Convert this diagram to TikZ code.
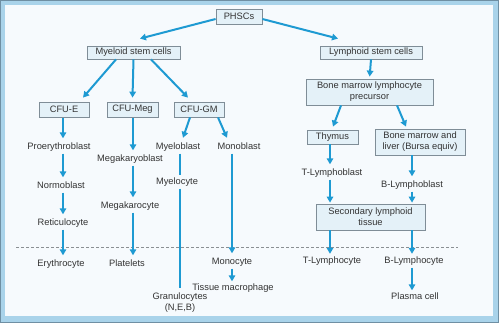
\documentclass[tikz,border=0pt]{standalone}
\usepackage{fontspec}
\setmainfont{Liberation Sans}
\usetikzlibrary{arrows.meta}
\definecolor{arr}{HTML}{1E9AD2}
\definecolor{boxfill}{HTML}{E4F1F8}
\definecolor{boxline}{HTML}{7F8D97}
\definecolor{txt}{HTML}{333333}
\definecolor{bg}{HTML}{F6FAFD}
\definecolor{band}{HTML}{A9D3EA}
\definecolor{edge}{HTML}{6F8FA3}
\definecolor{dashcol}{HTML}{8A8F93}
\newcommand\dgfont{\fontsize{9.3bp}{11bp}\selectfont}
\begin{document}
\begin{tikzpicture}[x=1bp,y=-1bp,
  box/.style={draw=boxline, fill=boxfill, line width=0.8bp, inner sep=0pt, text=txt, font=\dgfont, align=center},
  lbl/.style={text=txt, font=\dgfont, inner sep=1bp, text height=7bp, text depth=2bp, align=center},
  lbltwo/.style={text=txt, font=\dgfont, inner sep=0pt, align=center},
  arw/.style={draw=arr, line width=2bp, -{Triangle[length=6bp,width=6.5bp]}, shorten >=3bp, shorten <=1bp},
  ln/.style={draw=arr, line width=2bp, shorten >=1bp, shorten <=1bp}]
\useasboundingbox (0,0) rectangle (499,323);
% frame
\fill[edge] (0,0) rectangle (499,323);
\fill[band] (1,1) rectangle (498,322);
\fill[bg] (5,5) rectangle (493,316);
% dashed separator
\coordinate (dl) at (16,247);
\coordinate (dr) at (458,247);
\draw[dashcol, line width=0.8bp, dash pattern=on 3bp off 2bp] (dl) -- (dr);
% columns
\coordinate (colE) at (63,0);
\coordinate (colMeg) at (133,0);
\coordinate (colMy) at (180,0);
\coordinate (colMo) at (232,0);
\coordinate (colT) at (330,0);
\coordinate (colB) at (412,0);
% boxes
\node[box, minimum width=46bp, minimum height=15bp] (ph) at (239,16.5) {PHSCs};
\node[box, minimum width=93bp, minimum height=13bp] (my) at (133.5,52.5) {Myeloid stem cells};
\node[box, minimum width=102bp, minimum height=13bp] (ly) at (371,52.5) {Lymphoid stem cells};
\node[box, minimum width=127bp, minimum height=26bp] (bm) at (369.5,92) {Bone marrow lymphocyte\\precursor};
\node[box, minimum width=51bp, minimum height=14bp] (thy) at (332.5,137) {Thymus};
\node[box, minimum width=90bp, minimum height=26bp] (bml) at (420,142) {Bone marrow and\\liver (Bursa equiv)};
\node[box, minimum width=50bp, minimum height=15bp] (cfue) at (64,109.5) {CFU-E};
\node[box, minimum width=51bp, minimum height=15bp] (cfumeg) at (132.5,109.5) {CFU-Meg};
\node[box, minimum width=50bp, minimum height=15bp] (cfugm) at (199,109.5) {CFU-GM};
\node[box, minimum width=109bp, minimum height=26bp] (sec) at (370.5,217) {Secondary lymphoid\\tissue};
% labels
\node[lbl] (pro) at (59,147) {Proerythroblast};
\node[lbl] (norm) at (61,186) {Normoblast};
\node[lbl] (ret) at (63,223) {Reticulocyte};
\node[lbl] (ery) at (61,264) {Erythrocyte};
\node[lbl] (megb) at (130,159) {Megakaryoblast};
\node[lbl] (megc) at (130,206) {Megakarocyte};
\node[lbl] (plat) at (127,264) {Platelets};
\node[lbl] (myb) at (178,147) {Myeloblast};
\node[lbl] (myc) at (177,182) {Myelocyte};
\node[lbltwo] (gran) at (180,303) {Granulocytes\\(N,E,B)};
\node[lbl] (mob) at (239,147) {Monoblast};
\node[lbl] (moc) at (232,262) {Monocyte};
\node[lbl] (tis) at (233,288) {Tissue macrophage};
\node[lbl] (tlb) at (332,173) {T-Lymphoblast};
\node[lbl] (blb) at (412,185) {B-Lymphoblast};
\node[lbl] (tlc) at (332,261) {T-Lymphocyte};
\node[lbl] (blc) at (414,261) {B-Lymphocyte};
\node[lbl] (pla) at (415,297) {Plasma cell};
% connectors: top
\draw[arw, shorten >=0pt, shorten <=0pt] ([yshift=-2.5bp]ph.west) -- ([xshift=6.5bp,yshift=7bp]my.north);
\draw[arw, shorten >=0pt, shorten <=0pt] ([yshift=-2.5bp]ph.east) -- ([xshift=-33bp,yshift=7bp]ly.north);
% myeloid
\draw[arw, shorten >=0pt, shorten <=0pt] ([xshift=-17.5bp]my.south) -- ([xshift=19bp,yshift=4bp]cfue.north);
\draw[arw, shorten >=0pt, shorten <=0pt] (my.south) -- ([yshift=4bp]cfumeg.north);
\draw[arw, shorten >=0pt, shorten <=0pt] ([xshift=17.5bp]my.south) -- ([xshift=-11bp,yshift=4bp]cfugm.north);
% erythroid column
\draw[arw] (cfue.south -| colE) -- (pro.north -| colE);
\draw[arw] (pro.south -| colE) -- (norm.north -| colE);
\draw[arw] (norm.south -| colE) -- (ret.north -| colE);
\draw[arw] (ret.south -| colE) -- (ery.north -| colE);
% megakaryocyte column
\draw[arw] (cfumeg.south -| colMeg) -- (megb.north -| colMeg);
\draw[arw] (megb.south -| colMeg) -- (megc.north -| colMeg);
\draw[arw] (megc.south -| colMeg) -- (plat.north -| colMeg);
% granulocyte / monocyte
\draw[arw, shorten >=0pt, shorten <=0pt] ([xshift=-9bp]cfugm.south) -- ([xshift=5bp,yshift=3.5bp]myb.north);
\draw[arw, shorten >=0pt, shorten <=0pt] ([xshift=19bp]cfugm.south) -- ([xshift=-12bp,yshift=3.5bp]mob.north);
\draw[ln] (myb.south -| colMy) -- (myc.north -| colMy);
\draw[ln, shorten >=5bp] (myc.south -| colMy) -- (gran.north -| colMy);
\draw[arw] (mob.south -| colMo) -- (moc.north -| colMo);
\draw[arw, shorten >=1bp] (moc.south -| colMo) -- (tis.north -| colMo);
% lymphoid
\draw[arw, shorten >=2bp, shorten <=0pt] (ly.south) -- (bm.north);
\draw[arw, shorten >=0pt, shorten <=0pt] ([xshift=-28.5bp]bm.south) -- ([xshift=0.5bp,yshift=3bp]thy.north);
\draw[arw, shorten >=0pt, shorten <=0pt] ([xshift=27.5bp]bm.south) -- ([xshift=-14bp,yshift=2bp]bml.north);
\draw[arw, shorten <=0pt] (thy.south -| colT) -- (tlb.north -| colT);
\draw[arw, shorten <=0pt] (bml.south -| colB) -- (blb.north -| colB);
\draw[arw, shorten >=1bp] (tlb.south -| colT) -- (sec.north -| colT);
\draw[arw, shorten >=1bp] (blb.south -| colB) -- (sec.north -| colB);
\draw[arw, shorten >=1.5bp, shorten <=0pt] (sec.south -| colT) -- (tlc.north -| colT);
\draw[arw, shorten >=1.5bp, shorten <=0pt] (sec.south -| colB) -- (blc.north -| colB);
\draw[arw, shorten >=1bp] (blc.south -| colB) -- (pla.north -| colB);
\end{tikzpicture}
\end{document}
